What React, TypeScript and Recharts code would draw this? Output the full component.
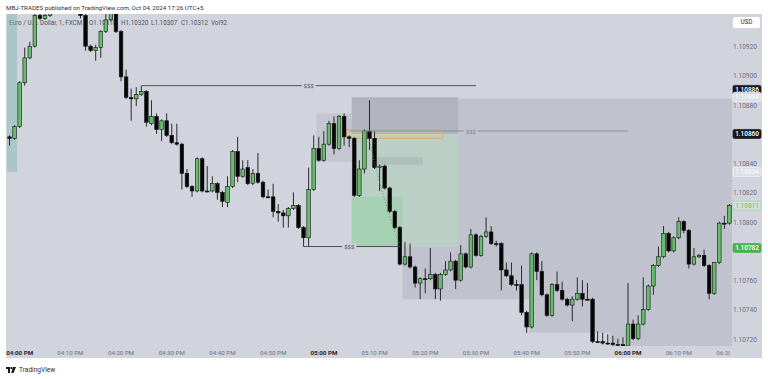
import React from "react"
import {
  ComposedChart,
  Bar,
  Line,
  XAxis,
  YAxis,
  ReferenceArea,
  ReferenceLine,
  ReferenceDot,
} from "recharts"

// EURUSD 1 minute candles, first bar at 03:58 PM
const firstMinute = 15 * 60 + 58

const opens = [
  1.10858, 1.10857, 1.10865, 1.10895, 1.10912, 1.1092, 1.10941, 1.10939, 1.10941, 1.1095,
  1.10958, 1.10953, 1.1096, 1.10952, 1.10945, 1.10941, 1.1092, 1.10917, 1.10919, 1.1093,
  1.10938, 1.10943, 1.1093, 1.10899, 1.10885, 1.10884, 1.10887, 1.10889, 1.10867, 1.10872,
  1.10863, 1.10869, 1.10859, 1.10854, 1.10853, 1.10833, 1.10824, 1.10821, 1.10843, 1.10821,
  1.10821, 1.10826, 1.1082, 1.10813, 1.10824, 1.10848, 1.10831, 1.10837, 1.10826, 1.10833,
  1.10827, 1.10817, 1.10817, 1.10807, 1.10806, 1.10804, 1.10809, 1.10811, 1.10796, 1.10789,
  1.10822, 1.1085, 1.10842, 1.10853, 1.10867, 1.1085, 1.10872, 1.10858, 1.10857, 1.10818,
  1.10836, 1.10862, 1.10857, 1.10837, 1.10838, 1.10823, 1.10807, 1.10796, 1.10771, 1.10776,
  1.10769, 1.10758, 1.10761, 1.10761, 1.10764, 1.10754, 1.10764, 1.10767, 1.10773, 1.1076,
  1.10778, 1.10769, 1.10791, 1.10777, 1.1079, 1.10793, 1.10785, 1.10785, 1.10767, 1.10763,
  1.10757, 1.10757, 1.10738, 1.10728, 1.10778, 1.10766, 1.1075, 1.10736, 1.10757, 1.10753,
  1.10747, 1.10743, 1.10747, 1.10751, 1.10747, 1.10747, 1.10718, 1.10718, 1.10717, 1.10717,
  1.10716, 1.10716, 1.10715, 1.1073, 1.1072, 1.1073, 1.1074, 1.10756, 1.1077, 1.10776,
  1.10792, 1.1078, 1.10789, 1.108, 1.10794, 1.10771, 1.10776, 1.10777, 1.1077, 1.10751,
  1.10772, 1.10799, 1.10799,
]

const highs = [
  1.10859, 1.10866, 1.10896, 1.10919, 1.10923, 1.10944, 1.10946, 1.10948, 1.10953, 1.10962,
  1.10961, 1.10964, 1.10962, 1.10955, 1.10947, 1.10943, 1.10921, 1.10921, 1.10931, 1.10942,
  1.10947, 1.10947, 1.10931, 1.10904, 1.10891, 1.10892, 1.10893, 1.1089, 1.10883, 1.10874,
  1.1087, 1.10874, 1.10867, 1.10867, 1.10854, 1.10836, 1.10825, 1.10844, 1.10844, 1.10838,
  1.10831, 1.10827, 1.10821, 1.10831, 1.10849, 1.10858, 1.10842, 1.10842, 1.10836, 1.10847,
  1.10828, 1.10822, 1.10826, 1.10812, 1.10808, 1.1081, 1.1082, 1.10812, 1.10797, 1.10837,
  1.10859, 1.10858, 1.10862, 1.10869, 1.10872, 1.10873, 1.10874, 1.10859, 1.10858, 1.10842,
  1.10863, 1.10883, 1.10862, 1.10839, 1.10839, 1.10824, 1.10808, 1.10797, 1.10786, 1.10785,
  1.1077, 1.10762, 1.10768, 1.10782, 1.10765, 1.10765, 1.10773, 1.10779, 1.10774, 1.10784,
  1.10779, 1.10795, 1.10792, 1.10791, 1.10803, 1.10797, 1.10787, 1.10786, 1.10772, 1.10772,
  1.1076, 1.1077, 1.10739, 1.10779, 1.10779, 1.10773, 1.10751, 1.10758, 1.10766, 1.10759,
  1.10748, 1.10749, 1.10762, 1.1076, 1.10758, 1.10748, 1.10725, 1.10724, 1.10723, 1.10722,
  1.1072, 1.10721, 1.10758, 1.10733, 1.10736, 1.10762, 1.10757, 1.10771, 1.10783, 1.10797,
  1.10793, 1.1079, 1.10803, 1.10801, 1.10795, 1.10782, 1.10778, 1.10781, 1.10771, 1.10772,
  1.108, 1.10804, 1.10812,
]

const lows = [
  1.10852, 1.10856, 1.10864, 1.10893, 1.10911, 1.10919, 1.10938, 1.10938, 1.1094, 1.10948,
  1.10951, 1.1095, 1.10949, 1.10943, 1.10939, 1.10917, 1.10916, 1.1091, 1.10912, 1.10929,
  1.10937, 1.10929, 1.10896, 1.10884, 1.10869, 1.10879, 1.10886, 1.10865, 1.10866, 1.1086,
  1.10855, 1.10858, 1.10853, 1.10852, 1.10822, 1.10823, 1.10817, 1.1082, 1.1082, 1.1082,
  1.1082, 1.10815, 1.1081, 1.1081, 1.10823, 1.10827, 1.1083, 1.10825, 1.10825, 1.10826,
  1.10816, 1.10816, 1.10803, 1.108, 1.10796, 1.10796, 1.10808, 1.10795, 1.10783, 1.10783,
  1.10821, 1.10841, 1.10841, 1.10852, 1.10846, 1.10849, 1.10852, 1.10851, 1.10817, 1.10817,
  1.10833, 1.10849, 1.10836, 1.10821, 1.10822, 1.10806, 1.10795, 1.1077, 1.1077, 1.10768,
  1.10755, 1.10747, 1.10751, 1.1076, 1.10747, 1.10746, 1.10763, 1.10766, 1.10754, 1.10759,
  1.10768, 1.10768, 1.10776, 1.10776, 1.10789, 1.10784, 1.10783, 1.10753, 1.10762, 1.10756,
  1.10753, 1.10736, 1.10724, 1.10727, 1.1076, 1.10749, 1.10735, 1.10735, 1.10752, 1.10746,
  1.10742, 1.10732, 1.10746, 1.10742, 1.10746, 1.10717, 1.10717, 1.10716, 1.10716, 1.10715,
  1.10714, 1.10713, 1.10713, 1.10719, 1.10719, 1.10729, 1.10739, 1.1075, 1.10769, 1.10775,
  1.10779, 1.10779, 1.10788, 1.10792, 1.10768, 1.1077, 1.10775, 1.10769, 1.10747, 1.1075,
  1.10771, 1.10795, 1.10798,
]

const closes = [
  1.10857, 1.10865, 1.10895, 1.10912, 1.1092, 1.10941, 1.10939, 1.10941, 1.1095, 1.10958,
  1.10953, 1.1096, 1.10952, 1.10945, 1.10941, 1.1092, 1.10917, 1.10919, 1.1093, 1.10938,
  1.10943, 1.1093, 1.10899, 1.10885, 1.10884, 1.10887, 1.10889, 1.10868, 1.10872, 1.10863,
  1.10869, 1.10859, 1.10854, 1.10853, 1.10833, 1.10824, 1.10821, 1.10843, 1.10821, 1.10821,
  1.10826, 1.1082, 1.10814, 1.10824, 1.10848, 1.10831, 1.10836, 1.10826, 1.10833, 1.10827,
  1.10817, 1.10817, 1.10807, 1.10806, 1.10804, 1.10809, 1.10811, 1.10796, 1.10789, 1.10822,
  1.1085, 1.10842, 1.10853, 1.10867, 1.1085, 1.10872, 1.10858, 1.10857, 1.10818, 1.10836,
  1.10862, 1.10857, 1.10837, 1.10838, 1.10823, 1.10807, 1.10796, 1.10771, 1.10776, 1.10769,
  1.10758, 1.10761, 1.10761, 1.10764, 1.10754, 1.10764, 1.10767, 1.10773, 1.1076, 1.10778,
  1.10769, 1.10791, 1.10777, 1.1079, 1.10793, 1.10785, 1.10785, 1.10767, 1.10763, 1.10757,
  1.10757, 1.10738, 1.10728, 1.10778, 1.10766, 1.1075, 1.10736, 1.10757, 1.10753, 1.10747,
  1.10743, 1.10747, 1.10751, 1.10747, 1.10747, 1.10718, 1.10718, 1.10717, 1.10717, 1.10716,
  1.10716, 1.10715, 1.1073, 1.1072, 1.1073, 1.1074, 1.10756, 1.1077, 1.10776, 1.10792,
  1.1078, 1.10789, 1.108, 1.10794, 1.10771, 1.10776, 1.10777, 1.1077, 1.10751, 1.10772,
  1.10799, 1.10799, 1.10811,
]

// dotted projection drawn inside the short position
const trailTimes = ["05:09 PM", "05:10 PM", "05:12 PM", "05:14 PM", "05:15 PM"]
const trailPrices = [1.10855, 1.1084, 1.10815, 1.10793, 1.10784]

const timeTicks = [
  "04:00 PM", "04:10 PM", "04:20 PM", "04:30 PM", "04:40 PM", "04:50 PM", "05:00 PM",
  "05:10 PM", "05:20 PM", "05:30 PM", "05:40 PM", "05:50 PM", "06:00 PM", "06:10 PM", "06:20 PM",
]
const hourTicks = ["04:00 PM", "05:00 PM", "06:00 PM"]

const priceTicks = [1.1072, 1.1074, 1.1076, 1.108, 1.1082, 1.1084, 1.1088, 1.109, 1.1092]
const markerPrices = [1.10886, 1.10884, 1.1086, 1.10834, 1.10811, 1.10782]
const markerKinds = ["dark", "faint", "dark", "faint", "greenLine", "green"]

const FONT = "Roboto, 'Liberation Sans', Arial, sans-serif"
const PANEL = "#d1d4dd"
const ZONE = "#8a8f9e"
const PLOT_RIGHT = 724

const markerStyle: any = {
  dark: { bg: "#131722", border: "#131722", fg: "#ffffff" },
  faint: { bg: "#dcdfe6", border: "#f4f5f8", fg: "#f7f8fa" },
  greenLine: { bg: "#d8dee0", border: "#93d196", fg: "#7fc783" },
  green: { bg: "#4caf50", border: "#4caf50", fg: "#ffffff" },
}
// the two stacked labels near the top are pushed apart like the platform does
const markerNudge = [-6, -2, 0, 0, 0, 0]

const pad = (n: number) => String(n).padStart(2, "0")
const clock = (m: number) => `${pad(Math.floor(m / 60) % 12 || 12)}:${pad(m % 60)} PM`

const rows = opens.map((o, i) => {
  const t = clock(firstMinute + i)
  const k = trailTimes.indexOf(t)
  return {
    t,
    open: o,
    high: highs[i],
    low: lows[i],
    close: closes[i],
    trail: k >= 0 ? trailPrices[k] : null,
  }
})

function Candle(props: any) {
  const { x, y, width, height, payload } = props
  if (!payload) return null
  const { open, close, high, low } = payload
  const top = Math.min(y, y + height)
  const bottom = Math.max(y, y + height)
  const k = (bottom - top) / (high - low)
  const py = (v: number) => top + (high - v) * k
  const cx = x + width / 2
  const up = close > open
  const bTop = py(Math.max(open, close))
  const bh = Math.max(py(Math.min(open, close)) - bTop, 1)
  return (
    <g>
      <line x1={cx} x2={cx} y1={top} y2={bottom} stroke="#2a2a2e" strokeWidth={1} />
      <rect
        x={cx - 1.8}
        y={bTop}
        width={3.6}
        height={bh}
        fill={up ? "#66bd69" : "#060606"}
        stroke="#151515"
        strokeWidth={0.6}
      />
    </g>
  )
}

function TimeTick(props: any) {
  const { x, y, payload, index } = props
  const label = payload.value
  if (!timeTicks.includes(label)) return <g />
  const bold = hourTicks.includes(label)
  const id = `tclip-${index}`
  return (
    <g>
      <defs>
        <clipPath id={id}>
          <rect x={0} y={0} width={PLOT_RIGHT} height={400} />
        </clipPath>
      </defs>
      <text
        x={x}
        y={y + 7}
        textAnchor="middle"
        dominantBaseline="central"
        fontSize={6.2}
        fontFamily={FONT}
        fontWeight={bold ? 700 : 400}
        fill={bold ? "#1e222d" : "#6d707a"}
        clipPath={`url(#${id})`}
      >
        {label}
      </text>
    </g>
  )
}

function PriceTick(props: any) {
  const { x, y, payload } = props
  const v = payload.value
  const k = markerPrices.findIndex((m) => Math.abs(m - v) < 1e-7)
  if (k < 0) {
    return (
      <text x={x + 13} y={y + 1} textAnchor="middle" dominantBaseline="central" fontSize={6.6} fontFamily={FONT} fill="#6d707a">
        {v.toFixed(5)}
      </text>
    )
  }
  const s = markerStyle[markerKinds[k]]
  const cy = y + markerNudge[k]
  return (
    <g>
      <rect x={x + 1} y={cy - 4.5} width={28} height={9} rx={1.5} fill={s.bg} stroke={s.border} strokeWidth={0.7} />
      <text x={x + 15} y={cy} textAnchor="middle" dominantBaseline="central" fontSize={6.4} fontFamily={FONT} fontWeight={600} fill={s.fg}>
        {v.toFixed(5)}
      </text>
    </g>
  )
}

const dollarTag = (bg: string, color: string) => (p: any) => (
  <g>
    <rect x={p.cx - 7} y={p.cy - 3.5} width={14} height={7} fill={bg} />
    <text x={p.cx} y={p.cy} textAnchor="middle" dominantBaseline="central" fontSize={6} fontFamily={FONT} fill={color}>
      $$$
    </text>
  </g>
)

export default function App() {
  return (
    <div style={{ position: "absolute", left: 0, top: 0, width: 768, height: 379, background: "#fff", fontFamily: FONT, overflow: "hidden" }}>
      <div style={{ position: "absolute", left: 6, top: 3, fontSize: 6.2, lineHeight: "10px", color: "#2a2e39", whiteSpace: "nowrap" }}>
        MBJ-TRADES published on TradingView.com, Oct 04, 2024 17:26 UTC+5
      </div>
      <div style={{ position: "absolute", left: 6, top: 14, width: 756, height: 344, background: PANEL }} />
      <div style={{ position: "absolute", left: 9, top: 18, fontSize: 6.3, lineHeight: "10px", color: "#50535e", whiteSpace: "nowrap" }}>
        <span>Euro / U.S. Dollar, 1, FXCM</span>
        <span style={{ position: "absolute", left: 80 }}>O1.10310</span>
        <span style={{ position: "absolute", left: 112 }}>H1.10320</span>
        <span style={{ position: "absolute", left: 142 }}>L1.10307</span>
        <span style={{ position: "absolute", left: 172 }}>C1.10312</span>
        <span style={{ position: "absolute", left: 202 }}>Vol92</span>
      </div>
      <div style={{ position: "absolute", left: 6, top: 14 }}>
        <ComposedChart width={756} height={344} data={rows} margin={{ top: 0, right: 0, bottom: 0, left: 1 }}>
          <XAxis
            dataKey="t"
            interval={0}
            height={12}
            tickSize={0}
            tickMargin={0}
            axisLine={false}
            tickLine={false}
            tick={(p: any) => <TimeTick {...p} />}
          />
          <YAxis
            orientation="right"
            type="number"
            domain={[1.10715, 1.10942]}
            allowDataOverflow
            ticks={[...priceTicks, ...markerPrices]}
            interval={0}
            width={30}
            tickSize={0}
            tickMargin={0}
            axisLine={false}
            tickLine={false}
            tick={(p: any) => <PriceTick {...p} />}
          />

          <ReferenceArea x1="03:58 PM" x2="03:59 PM" y1={1.10834} y2={1.10942} fill="#7fb3b6" fillOpacity={0.45} />
          <ReferenceArea x1="04:59 PM" x2="05:05 PM" y1={1.10841} y2={1.10874} fill={ZONE} fillOpacity={0.18} />
          <ReferenceArea x1="05:27 PM" x2="06:20 PM" y1={1.10747} y2={1.10884} fill={ZONE} fillOpacity={0.24} />
          <ReferenceArea x1="05:16 PM" x2="05:26 PM" y1={1.10747} y2={1.10783} fill={ZONE} fillOpacity={0.24} />
          <ReferenceArea x1="05:41 PM" x2="06:20 PM" y1={1.10724} y2={1.10747} fill={ZONE} fillOpacity={0.24} />
          <ReferenceArea x1="05:57 PM" x2="06:20 PM" y1={1.10715} y2={1.10724} fill={ZONE} fillOpacity={0.24} />
          <ReferenceArea x1="05:06 PM" x2="05:26 PM" y1={1.1086} y2={1.10885} fill="#70747f" fillOpacity={0.33} />
          <ReferenceArea x1="05:06 PM" x2="05:26 PM" y1={1.10783} y2={1.1086} fill="#7ec68a" fillOpacity={0.27} />
          <ReferenceArea x1="05:06 PM" x2="05:15 PM" y1={1.10783} y2={1.10817} fill="#7ed08a" fillOpacity={0.35} />
          <ReferenceArea x1="05:10 PM" x2="05:19 PM" y1={1.10839} y2={1.10844} fill={ZONE} fillOpacity={0.25} />
          <ReferenceArea
            x1="05:05 PM"
            x2="05:23 PM"
            y1={1.10857}
            y2={1.10863}
            fill="#f0c080"
            fillOpacity={0.25}
            stroke="#e3a55a"
            strokeWidth={0.8}
          />

          <ReferenceLine segment={[{ x: "04:24 PM", y: 1.10893 }, { x: "05:30 PM", y: 1.10893 }]} stroke="#4d4f57" strokeWidth={1} />
          <ReferenceLine segment={[{ x: "05:05 PM", y: 1.10862 }, { x: "06:00 PM", y: 1.10862 }]} stroke="#8b8e98" strokeWidth={1} />
          <ReferenceLine segment={[{ x: "04:56 PM", y: 1.10783 }, { x: "05:15 PM", y: 1.10783 }]} stroke="#4d4f57" strokeWidth={1} />

          <Bar dataKey={(d: any) => [d.low, d.high]} shape={(p: any) => <Candle {...p} />} isAnimationActive={false} />
          <Line
            dataKey="trail"
            type="monotone"
            connectNulls
            dot={false}
            activeDot={false}
            stroke="#5c9b63"
            strokeWidth={1}
            strokeDasharray="1 2"
            isAnimationActive={false}
          />

          <ReferenceDot x="04:57 PM" y={1.10893} r={0} shape={dollarTag(PANEL, "#4d4f57")} />
          <ReferenceDot x="05:29 PM" y={1.10862} r={0} shape={dollarTag("#c0c3cd", "#7d808a")} />
          <ReferenceDot x="05:05 PM" y={1.10783} r={0} shape={dollarTag(PANEL, "#4d4f57")} />
        </ComposedChart>
      </div>
      <div style={{ position: "absolute", left: 733, top: 17, width: 27, height: 11, background: "#fff", borderRadius: 2, fontSize: 6.3, lineHeight: "11px", textAlign: "center", color: "#2a2e39" }}>
        USD
      </div>
      <div style={{ position: "absolute", left: 6, top: 366, display: "flex", alignItems: "center", gap: 3 }}>
        <svg width={10} height={6} viewBox="0 0 10 6">
          <path d="M0 0h4v6H2V2H0z" fill="#131722" />
          <circle cx={5.4} cy={1.1} r={1.1} fill="#131722" />
          <path d="M7 0h3l-2.5 6H5.2z" fill="#131722" />
        </svg>
        <span style={{ fontSize: 6.6, color: "#2a2e39" }}>TradingView</span>
      </div>
    </div>
  )
}
